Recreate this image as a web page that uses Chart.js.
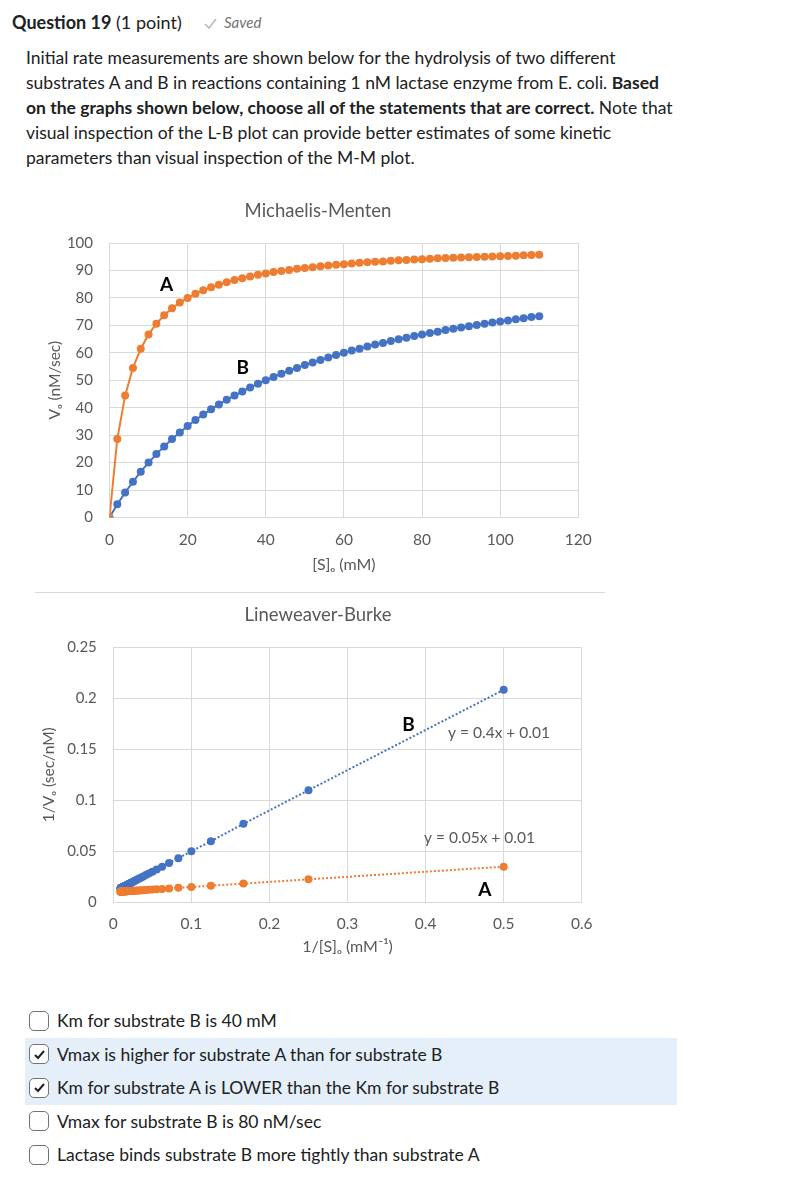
<!DOCTYPE html>
<html>
<head>
<meta charset="utf-8">
<script src="https://cdn.jsdelivr.net/npm/chart.js@4.4.1/dist/chart.umd.min.js"></script>
<style>
  body { margin: 0; background: #fff; font-family: Lato, "Open Sans", sans-serif; color: #202122; }
  .page { position: relative; width: 792px; height: 1195px; overflow: hidden; }
  .qhead { position: absolute; left: 12px; top: 10px; font-size: 18px; line-height: 24px; white-space: nowrap; }
  .qhead b { font-weight: 700; }
  .saved { position: absolute; left: 204px; top: 12px; font-size: 15px; line-height: 20px; color: #6e7376; font-style: italic; white-space: nowrap; }
  .saved svg { vertical-align: -1px; margin-right: 7px; }
  .stem { position: absolute; left: 26px; top: 45px; font-size: 17.5px; line-height: 25px; color: #202122; white-space: nowrap; }
  canvas { position: absolute; }
  .divider { position: absolute; left: 35px; top: 592px; width: 570px; height: 1px; background: #d9d9d9; }
  .opt { position: absolute; left: 25px; width: 652px; height: 33.5px; }
  .opt.on { background: #e4eff9; }
  .box { position: absolute; left: 4px; top: 6.5px; width: 20px; height: 20px; border: 1px solid #6e7376; border-radius: 5px; background: #fff; box-sizing: border-box; }
  .box svg { position: absolute; left: 2.5px; top: 2.5px; }
  .opt span { position: absolute; left: 32px; top: 4px; font-size: 17.5px; line-height: 25px; white-space: nowrap; }
</style>
</head>
<body>
<div class="page">
  <div class="qhead"><b>Question 19</b> (1 point)</div>
  <div class="saved"><svg width="13" height="11" viewBox="0 0 13 11"><polyline points="1,6 5,10 12,1" fill="none" stroke="#b5b9bb" stroke-width="1.6"/></svg>Saved</div>
  <div class="stem">
    Initial rate measurements are shown below for the hydrolysis of two different<br>
    substrates A and B in reactions containing 1 nM lactase enzyme from E. coli. <b>Based</b><br>
    <b>on the graphs shown below, choose all of the statements that are correct.</b> Note that<br>
    visual inspection of the L-B plot can provide better estimates of some kinetic<br>
    parameters than visual inspection of the M-M plot.
  </div>

  <canvas id="mmChart" width="574" height="395" style="left:31px;top:190px"></canvas>
  <div class="divider"></div>
  <canvas id="lbChart" width="574" height="373" style="left:31px;top:597px"></canvas>

  <div class="opt" style="top:1004px"><div class="box"></div><span>Km for substrate B is 40 mM</span></div>
  <div class="opt on" style="top:1037.5px"><div class="box"><svg width="13" height="13" viewBox="0 0 13 13"><polyline points="2,7 5,10 11,3" fill="none" stroke="#202122" stroke-width="2"/></svg></div><span>Vmax is higher for substrate A than for substrate B</span></div>
  <div class="opt on" style="top:1071px"><div class="box"><svg width="13" height="13" viewBox="0 0 13 13"><polyline points="2,7 5,10 11,3" fill="none" stroke="#202122" stroke-width="2"/></svg></div><span>Km for substrate A is LOWER than the Km for substrate B</span></div>
  <div class="opt" style="top:1104.5px"><div class="box"></div><span>Vmax for substrate B is 80 nM/sec</span></div>
  <div class="opt" style="top:1138px"><div class="box"></div><span>Lactase binds substrate B more tightly than substrate A</span></div>
</div>

<script>
// дані
const substrateMM = [0, 2, 4, 6, 8, 10, 12, 14, 16, 18, 20, 22, 24, 26, 28, 30, 32, 34, 36, 38,
  40, 42, 44, 46, 48, 50, 52, 54, 56, 58, 60, 62, 64, 66, 68, 70, 72, 74, 76, 78,
  80, 82, 84, 86, 88, 90, 92, 94, 96, 98, 100, 102, 104, 106, 108, 110];
const rateA = [0, 28.6, 44.4, 54.5, 61.5, 66.7, 70.6, 73.7, 76.2, 78.3, 80.0, 81.5, 82.8, 83.9, 84.8, 85.7, 86.5, 87.2, 87.8, 88.4,
  88.9, 89.4, 89.8, 90.2, 90.6, 90.9, 91.2, 91.5, 91.8, 92.1, 92.3, 92.5, 92.8, 93.0, 93.2, 93.3, 93.5, 93.7, 93.8, 94.0,
  94.1, 94.3, 94.4, 94.5, 94.6, 94.7, 94.8, 94.9, 95.0, 95.1, 95.2, 95.3, 95.4, 95.5, 95.6, 95.7];
const rateB = [0, 4.8, 9.1, 13.0, 16.7, 20.0, 23.1, 25.9, 28.6, 31.0, 33.3, 35.5, 37.5, 39.4, 41.2, 42.9, 44.4, 45.9, 47.4, 48.7,
  50.0, 51.2, 52.4, 53.5, 54.5, 55.6, 56.5, 57.4, 58.3, 59.2, 60.0, 60.8, 61.5, 62.3, 63.0, 63.6, 64.3, 64.9, 65.5, 66.1,
  66.7, 67.2, 67.7, 68.3, 68.8, 69.2, 69.7, 70.1, 70.6, 71.0, 71.4, 71.8, 72.2, 72.6, 73.0, 73.3];

const mmXTicks = [0, 20, 40, 60, 80, 100, 120];
const mmYTicks = [0, 10, 20, 30, 40, 50, 60, 70, 80, 90, 100];
const lbXTicks = [0, 0.1, 0.2, 0.3, 0.4, 0.5, 0.6];
const lbYTicks = [0, 0.05, 0.1, 0.15, 0.2, 0.25];

// подвійні обернені координати (Lineweaver-Burke) з тих самих вимірів
const invSubstrate = substrateMM.slice(1).map(s => 1 / s);
const invRateA = rateA.slice(1).map(v => 1 / v);
const invRateB = rateB.slice(1).map(v => 1 / v);

const ORANGE = '#ED7D31';
const BLUE = '#4472C4';
const GRID = '#d9d9d9';
const TEXT = '#595959';

Chart.defaults.font.family = 'Lato';

const toPoints = (xs, ys) => xs.map((x, i) => ({ x, y: ys[i] }));

/* ---- підписи всередині області графіка ---- */
const textLabels = {
  id: 'textLabels',
  afterDatasetsDraw(chart, args, opts) {
    const { ctx, scales } = chart;
    ctx.save();
    ctx.textAlign = 'center';
    ctx.textBaseline = 'middle';
    opts.items.forEach(it => {
      ctx.font = it.font;
      ctx.fillStyle = it.color;
      ctx.fillText(it.text, scales.x.getPixelForValue(it.x), scales.y.getPixelForValue(it.y));
    });
    ctx.restore();
  }
};

/* ---- спільний конструктор опцій ---- */
function buildOptions(c) {
  return {
    responsive: false,
    animation: false,
    layout: { padding: 0 },
    plugins: {
      legend: { display: false },
      tooltip: { enabled: false },
      title: {
        display: true,
        text: c.title,
        color: TEXT,
        font: { size: 18.5, weight: 'normal' },
        padding: c.titlePad
      },
      textLabels: { items: c.labels }
    },
    scales: {
      x: {
        type: 'linear',
        min: c.xTicks[0],
        max: c.xTicks[c.xTicks.length - 1],
        afterBuildTicks: s => { s.ticks = c.xTicks.map(v => ({ value: v })); },
        grid: { color: GRID, drawTicks: false },
        border: { color: GRID },
        ticks: { color: TEXT, font: { size: 15.5 }, padding: c.xTickPad, maxRotation: 0, callback: v => String(v) },
        title: { display: true, text: c.xTitle, color: TEXT, font: { size: 16 }, padding: { top: 0, bottom: c.xTitlePad } },
        afterFit: s => { s.height = c.xHeight; }
      },
      y: {
        type: 'linear',
        min: c.yTicks[0],
        max: c.yTicks[c.yTicks.length - 1],
        afterBuildTicks: s => { s.ticks = c.yTicks.map(v => ({ value: v })); },
        grid: { color: GRID, drawTicks: false },
        border: { color: GRID },
        ticks: { color: TEXT, font: { size: 15 }, padding: 16.5, callback: v => String(v) },
        title: { display: true, text: c.yTitle, color: TEXT, font: { size: 15.5 }, padding: { top: c.yTitlePad, bottom: 0 } },
        afterFit: s => { s.width = c.yWidth; }
      },
      pad: {
        type: 'linear',
        axis: 'y',
        position: 'right',
        grid: { display: false },
        border: { display: false },
        ticks: { display: false },
        afterFit: s => { s.width = c.rightPad; }
      }
    }
  };
}

/* ---- Michaelis-Menten ---- */
new Chart(document.getElementById('mmChart'), {
  type: 'scatter',
  data: {
    datasets: [
      { label: 'A', data: toPoints(substrateMM, rateA), showLine: true, order: 0,
        borderColor: ORANGE, backgroundColor: ORANGE, borderWidth: 2, pointRadius: 4, pointBorderWidth: 0,
        xAxisID: 'x', yAxisID: 'y' },
      { label: 'B', data: toPoints(substrateMM, rateB), showLine: true, order: 1,
        borderColor: BLUE, backgroundColor: BLUE, borderWidth: 2, pointRadius: 4, pointBorderWidth: 0,
        xAxisID: 'x', yAxisID: 'y' }
    ]
  },
  options: buildOptions({
    title: 'Michaelis-Menten',
    titlePad: { top: 9.9, bottom: 20.9 },
    xTicks: mmXTicks, yTicks: mmYTicks,
    xTitle: '[S]ₒ (mM)', yTitle: 'Vₒ (nM/sec)',
    xTickPad: 13.2, xTitlePad: 10.6, xHeight: 67.5,
    yTitlePad: 14.7, yWidth: 78.5, rightPad: 22.5,
    labels: [
      { text: 'A', x: 14.6, y: 84.8, font: 'bold 19px Lato', color: '#000' },
      { text: 'B', x: 34.1, y: 54.5, font: 'bold 19px Lato', color: '#000' }
    ]
  }),
  plugins: [textLabels]
});

/* ---- Lineweaver-Burke ---- */
new Chart(document.getElementById('lbChart'), {
  type: 'scatter',
  data: {
    datasets: [
      { label: 'A', data: toPoints(invSubstrate, invRateA), showLine: true, order: 0,
        borderColor: ORANGE, backgroundColor: ORANGE, borderWidth: 2, borderDash: [2, 2],
        pointRadius: 4, pointBorderWidth: 0, xAxisID: 'x', yAxisID: 'y' },
      { label: 'B', data: toPoints(invSubstrate, invRateB), showLine: true, order: 1,
        borderColor: BLUE, backgroundColor: BLUE, borderWidth: 2, borderDash: [2, 2],
        pointRadius: 4, pointBorderWidth: 0, xAxisID: 'x', yAxisID: 'y' }
    ]
  },
  options: buildOptions({
    title: 'Lineweaver-Burke',
    titlePad: { top: 6.9, bottom: 21.2 },
    xTicks: lbXTicks, yTicks: lbYTicks,
    xTitle: '1/[S]ₒ (mM⁻¹)', yTitle: '1/Vₒ (sec/nM)',
    xTickPad: 12.4, xTitlePad: 13.6, xHeight: 67.7,
    yTitlePad: 8.7, yWidth: 82.3, rightPad: 19.7,
    labels: [
      { text: 'B', x: 0.378, y: 0.174, font: 'bold 19px Lato', color: '#000' },
      { text: 'y = 0.4x + 0.01', x: 0.494, y: 0.166, font: '15.5px Lato', color: TEXT },
      { text: 'y = 0.05x + 0.01', x: 0.469, y: 0.063, font: '15.5px Lato', color: TEXT },
      { text: 'A', x: 0.476, y: 0.012, font: 'bold 19px Lato', color: '#000' }
    ]
  }),
  plugins: [textLabels]
});
</script>
</body>
</html>
